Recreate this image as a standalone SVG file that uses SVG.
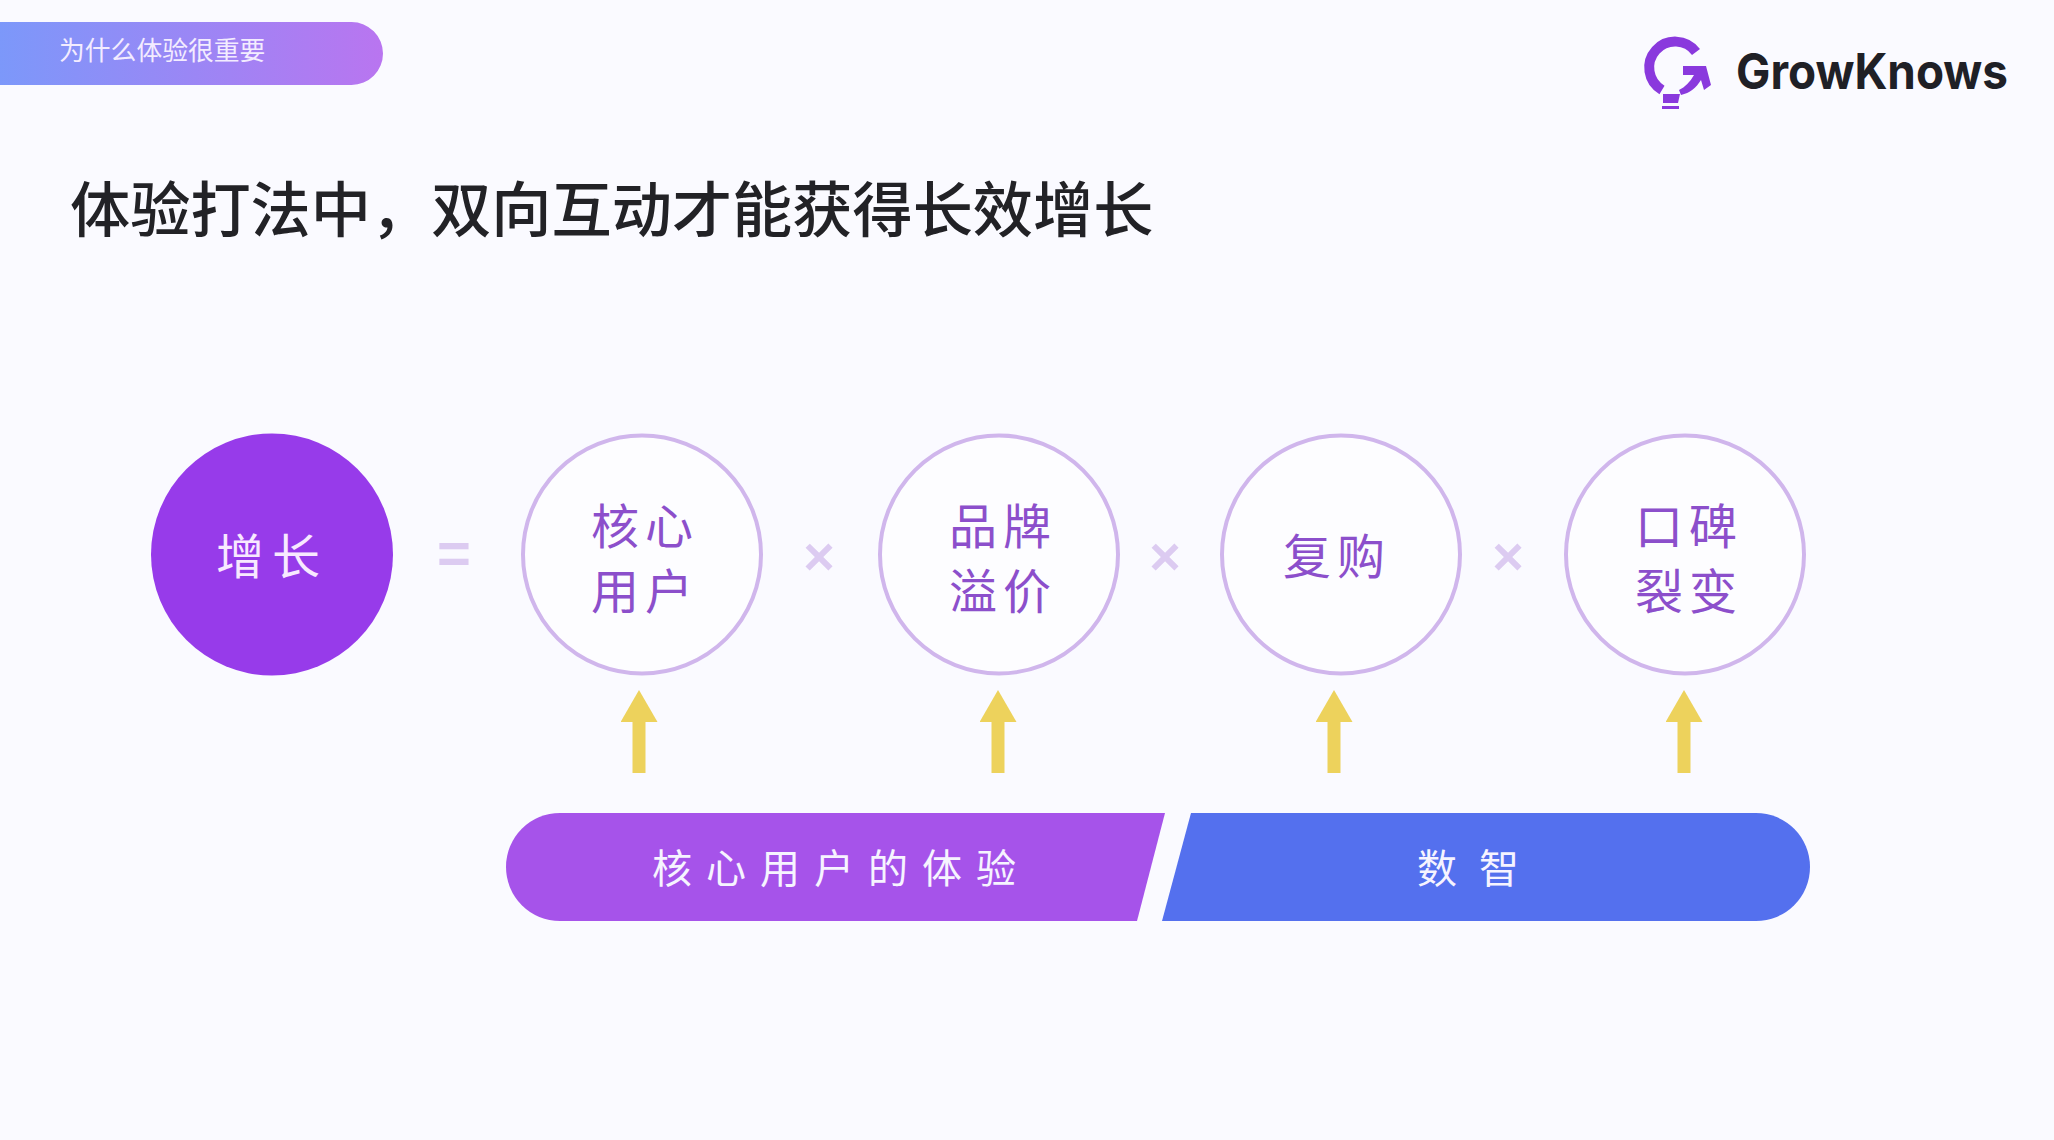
<svg xmlns="http://www.w3.org/2000/svg" width="2054" height="1140" viewBox="0 0 2054 1140">
<style>
text{font-family:"Noto Sans CJK SC","Noto Sans",sans-serif}
.ring{fill:#fdfdff;stroke:#d0b6ec;stroke-width:4}
.cap{font-size:48px;fill:#8c4fcb;text-anchor:middle;letter-spacing:6px}
.bar{font-size:40px;fill:#f6f4ff;text-anchor:middle}
.op{font-family:"Liberation Sans",sans-serif;font-weight:700;fill:#dccbf1;text-anchor:middle}
.arr{stroke:#edd25c;stroke-width:13;fill:none;marker-end:url(#head)}
</style>
<defs>
<linearGradient id="pill" x1="0" x2="1" y1="0" y2="0"><stop offset="0" stop-color="#7c98fa"/><stop offset="1" stop-color="#b975f0"/></linearGradient>
<marker id="head" markerUnits="userSpaceOnUse" markerWidth="32" markerHeight="37" refX="0" refY="18.5" viewBox="0 0 32 37" orient="auto"><path d="M0 0L32 18.5L0 37Z" fill="#edd25c"/></marker>
</defs>
<rect width="2054" height="1140" fill="#fafaff"/>
<g id="header">
<path d="M0 22H351.500A31.500 31.500 0 0 1 351.500 85H0Z" fill="url(#pill)"/>
<text x="59" y="59.500" font-size="25.800" fill="#f3ecff">为什么体验很重要</text>
</g>
<g id="logo">
<path d="M1696 52A26 26 0 1 0 1662 90" fill="none" stroke="#8a39dd" stroke-width="10"/>
<path d="M1663 94H1680L1678 103H1663Z" fill="#8a39dd"/>
<rect x="1662" y="106" width="17" height="3" fill="#8a39dd"/>
<path d="M1683 66H1706L1711 85L1704 90L1701 80C1696 88 1690 93 1681 95L1679 90C1685 87 1690 82 1694 75H1683Z" fill="#8a39dd"/>
<text x="1736" y="89" font-size="50" font-weight="700" fill="#1f2026" style="font-family:Inter,sans-serif" textLength="272" lengthAdjust="spacingAndGlyphs">GrowKnows</text>
</g>
<text id="title" x="70" y="232" font-size="60.200" font-weight="500" fill="#222226">体验打法中，双向互动才能获得长效增长</text>
<g id="node-growth">
<circle cx="272" cy="554.500" r="121" fill="#973bea"/>
<text x="272" y="574" font-size="48" fill="#f8e9ff" text-anchor="middle" letter-spacing="8">增长</text>
</g>
<g id="node-core-users">
<circle class="ring" cx="642" cy="554.500" r="119"/>
<text class="cap" x="645" y="544">核心</text>
<text class="cap" x="645" y="609">用户</text>
</g>
<g id="node-brand">
<circle class="ring" cx="999" cy="554.500" r="119"/>
<text class="cap" x="1003" y="544">品牌</text>
<text class="cap" x="1003" y="609">溢价</text>
</g>
<g id="node-repurchase">
<circle class="ring" cx="1341" cy="554.500" r="119"/>
<text class="cap" x="1337" y="574">复购</text>
</g>
<g id="node-wom">
<circle class="ring" cx="1685" cy="554.500" r="119"/>
<text class="cap" x="1689" y="544">口碑</text>
<text class="cap" x="1689" y="609">裂变</text>
</g>
<g id="operators">
<text class="op" x="454" y="573" font-size="58">=</text>
<text class="op" x="819" y="575" font-size="54">×</text>
<text class="op" x="1165" y="575" font-size="54">×</text>
<text class="op" x="1508" y="575" font-size="54">×</text>
</g>
<g id="connectors">
<line class="arr" x1="639" y1="773" x2="639" y2="722"/>
<line class="arr" x1="998" y1="773" x2="998" y2="722"/>
<line class="arr" x1="1334" y1="773" x2="1334" y2="722"/>
<line class="arr" x1="1684" y1="773" x2="1684" y2="722"/>
</g>
<g id="bar-experience">
<path d="M560 813H1165L1137 921H560A54 54 0 0 1 560 813Z" fill="#a653ea"/>
<text class="bar" x="841" y="883" letter-spacing="14">核心用户的体验</text>
</g>
<g id="bar-data">
<path d="M1191 813H1756A54 54 0 0 1 1756 921H1162Z" fill="#5470ee"/>
<text class="bar" x="1479" y="883" letter-spacing="22">数智</text>
</g>
</svg>
